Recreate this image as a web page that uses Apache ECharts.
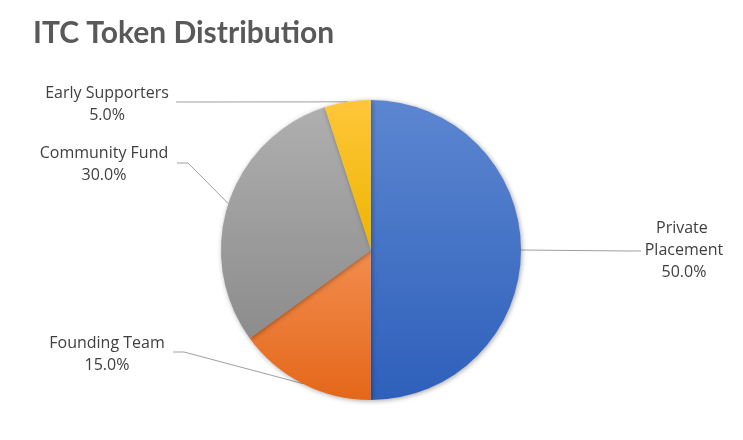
<!DOCTYPE html>
<html>
<head>
<meta charset="utf-8">
<script src="https://cdn.jsdelivr.net/npm/echarts@6/dist/echarts.min.js"></script>
<style>html,body{margin:0;padding:0;background:#fff}#c{width:743px;height:440px}</style>
</head>
<body>
<div id="c"></div>
<script>
const titleText = 'ITC Token Distribution';
const categories = ['Private Placement', 'Founding Team', 'Community Fund', 'Early Supporters'];
const values = [50, 15, 30, 5];

// styling / layout (not data)
const gradients = [
  ['#5C86D0', '#2E60BB'],
  ['#F28D4E', '#E4671A'],
  ['#AFAFAF', '#8C8C8C'],
  ['#FFC63A', '#EDB500']
];
// label anchor (center), leader-line end x and leader-line y
const labelPos = [
  {x: 684, y: 250, endX: 641, lineY: 251, dir: 1, width: 100},
  {x: 107, y: 354, endX: 173, lineY: 352, dir: -1},
  {x: 104, y: 164, endX: 177, lineY: 163, dir: -1},
  {x: 107, y: 104, endX: 176, lineY: 102, dir: -1}
];

const chart = echarts.init(document.getElementById('c'), null, {renderer: 'canvas'});
const data = categories.map((name, i) => {
  const item = {
    name: name,
    value: values[i],
    itemStyle: {
      color: new echarts.graphic.LinearGradient(0, 0, 0, 1, [
        {offset: 0, color: gradients[i][0]},
        {offset: 1, color: gradients[i][1]}
      ])
    }
  };
  if (labelPos[i].width) {
    item.label = {width: labelPos[i].width, overflow: 'break'};
  }
  return item;
});

chart.setOption({
  backgroundColor: '#ffffff',
  animation: false,
  title: {
    text: titleText,
    left: 28,
    top: 13,
    textStyle: {fontFamily: 'Lato', fontWeight: 'bold', fontSize: 30, color: '#595959'}
  },
  series: [{
    type: 'pie',
    center: [371, 250],
    radius: 150,
    startAngle: 90,
    clockwise: true,
    data: data,
    itemStyle: {
      borderWidth: 0,
      shadowBlur: 5,
      shadowColor: 'rgba(0,0,0,0.35)',
      shadowOffsetX: 1,
      shadowOffsetY: 1
    },
    label: {
      show: true,
      position: 'outside',
      fontFamily: 'Open Sans',
      fontSize: 16,
      lineHeight: 22,
      color: '#404040',
      align: 'center',
      formatter: p => p.name + '\n' + p.percent.toFixed(1) + '%'
    },
    labelLine: {
      show: true,
      lineStyle: {color: '#A0A0A0', width: 1}
    },
    labelLayout: function (params) {
      const lp = labelPos[params.dataIndex];
      const pts = params.labelLinePoints;
      const p0 = pts ? pts[0] : [lp.endX, lp.lineY];
      return {
        x: lp.x,
        y: lp.y,
        align: 'center',
        verticalAlign: 'middle',
        labelLinePoints: [
          [p0[0], p0[1]],
          [lp.endX - lp.dir * 11, lp.lineY],
          [lp.endX, lp.lineY]
        ]
      };
    }
  }]
});
</script>
</body>
</html>
